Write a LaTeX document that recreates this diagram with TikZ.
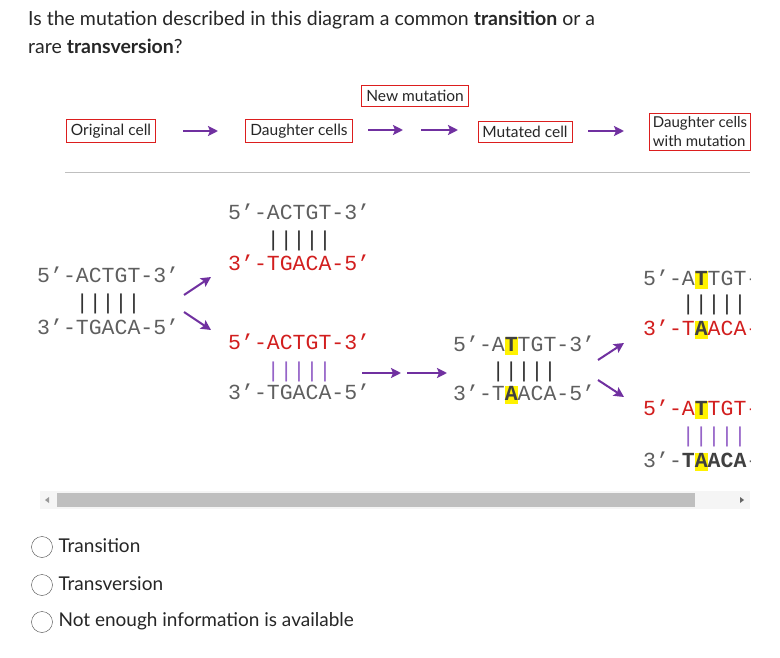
\documentclass[tikz,border=0pt]{standalone}
\usepackage{fontspec}
\setmainfont{Lato}
\newfontfamily\dnafont{Liberation Mono}
\usetikzlibrary{arrows.meta}
\definecolor{dred}{RGB}{210,30,30}
\definecolor{dgrey}{RGB}{95,95,95}
\definecolor{purp}{RGB}{112,48,160}
\definecolor{lpurp}{RGB}{150,100,200}
\definecolor{boxred}{RGB}{220,30,30}
\newcommand{\hlx}[1]{{\setlength\fboxsep{0pt}\colorbox{yellow}{\vphantom{Ag}\textbf{\color{black!75}#1}}}}
\begin{document}
\begin{tikzpicture}[x=1pt,y=-1pt,
  lbl/.style={draw=boxred,line width=0.8pt,font=\fontsize{15.5}{18}\selectfont,inner sep=4.5pt,text=black!85,align=left},
  dna/.style={anchor=base west,inner sep=0pt,font=\dnafont\fontsize{21.5}{22}\selectfont,text=dgrey},
  bars/.style={dna,text=black!80},
  parr/.style={-{Stealth[length=10pt,width=10pt,inset=2pt]},purp,line width=2pt},
  opt/.style={anchor=west,font=\fontsize{19}{22}\selectfont,text=black!85},
  rad/.style={draw=black!70,circle,minimum size=21pt,inner sep=0pt}]
\useasboundingbox[fill=white] (0,0) rectangle (780,658);
\node[anchor=base west,inner sep=0pt,font=\fontsize{19.5}{22}\selectfont,text=black!85] (q1) at (28,26) {Is the mutation described in this diagram a common \textbf{transition} or a};
\node[anchor=base west,inner sep=0pt,font=\fontsize{19.5}{22}\selectfont,text=black!85] (q2) at (28,54) {rare \textbf{transversion}?};

\node[lbl] (orig) at (111,131) {Original cell};
\node[lbl] (dau) at (299,131) {Daughter cells};
\node[lbl] (newm) at (415,96) {New mutation};
\node[lbl] (mut) at (525,132) {Mutated cell};
\node[lbl,font=\fontsize{15}{19}\selectfont,inner sep=3.5pt] (dwm) at (700,132) {Daughter cells\\with mutation};
\coordinate (a1) at (183,131); \coordinate (a2) at (218,131);
\coordinate (a3) at (368,130); \coordinate (a4) at (403,130);
\coordinate (a5) at (421,130); \coordinate (a6) at (458,130);
\coordinate (a7) at (588,131); \coordinate (a8) at (624,131);
\draw[parr] (a1) -- (a2); \draw[parr] (a3) -- (a4);
\draw[parr] (a5) -- (a6); \draw[parr] (a7) -- (a8);
\draw[black!25,line width=0.8pt] (65,172) -- (750,172);

\begin{scope}
\clip (0,180) rectangle (750,485);
\node[dna] (o1) at (37,282) {5’-ACTGT-3’};
\node[bars] (ob) at (37,309) {\phantom{5’-}|||||};
\node[dna] (o2) at (37,334) {3’-TGACA-5’};
\coordinate (b1) at (184,295); \coordinate (b2) at (211,277);
\coordinate (b3) at (184,312); \coordinate (b4) at (211,330);
\draw[parr] (b1) -- (b2); \draw[parr] (b3) -- (b4);
\node[dna] (d1) at (228,219) {5’-ACTGT-3’};
\node[bars] (db) at (228,247) {\phantom{5’-}|||||};
\node[dna,text=dred] (d2) at (228,270) {3’-TGACA-5’};
\node[dna,text=dred] (e1) at (228,349) {5’-ACTGT-3’};
\node[bars,text=lpurp] (eb) at (228,377) {\phantom{5’-}|||||};
\node[dna] (e2) at (228,399) {3’-TGACA-5’};
\coordinate (c1) at (362,373); \coordinate (c2) at (401,373);
\coordinate (c3) at (407,373); \coordinate (c4) at (447,373);
\draw[parr] (c1) -- (c2); \draw[parr] (c3) -- (c4);
\node[dna] (m1) at (453,351) {5’-A\hlx{T}TGT-3’};
\node[bars] (mb) at (453,377) {\phantom{5’-}|||||};
\node[dna] (m2) at (453,400) {3’-T\hlx{A}ACA-5’};
\coordinate (f1) at (598,360); \coordinate (f2) at (624,343);
\coordinate (f3) at (598,380); \coordinate (f4) at (624,397);
\draw[parr] (f1) -- (f2); \draw[parr] (f3) -- (f4);
\node[dna] (r1) at (643,285) {5’-A\hlx{T}TGT-3’};
\node[bars] (rb) at (643,310) {\phantom{5’-}|||||};
\node[dna,text=dred] (r2) at (643,335) {3’-T\hlx{A}ACA-5’};
\node[dna,text=dred] (s1) at (643,415) {5’-A\hlx{T}TGT-3’};
\node[bars,text=lpurp] (sb) at (643,442) {\phantom{5’-}|||||};
\node[dna] (s2) at (643,467) {3’-\textbf{\color{black!75}T}\hlx{A}\textbf{\color{black!75}ACA}-5’};
\end{scope}
\fill[black!4] (40,491) rectangle (750,509);
\fill[black!25] (57,493) rectangle (695,507);
\fill[black!40] (49,497) -- (49,503) -- (45,500) -- cycle;
\fill[black!60] (740,497) -- (740,503) -- (744,500) -- cycle;
\node[rad] (c1r) at (42,547) {}; \node[opt] (t1) at (55,546) {Transition};
\node[rad] (c2r) at (42,585) {}; \node[opt] (t2) at (55,584) {Transversion};
\node[rad] (c3r) at (42,622) {}; \node[opt] (t3) at (55,621) {Not enough information is available};
\end{tikzpicture}
\end{document}
